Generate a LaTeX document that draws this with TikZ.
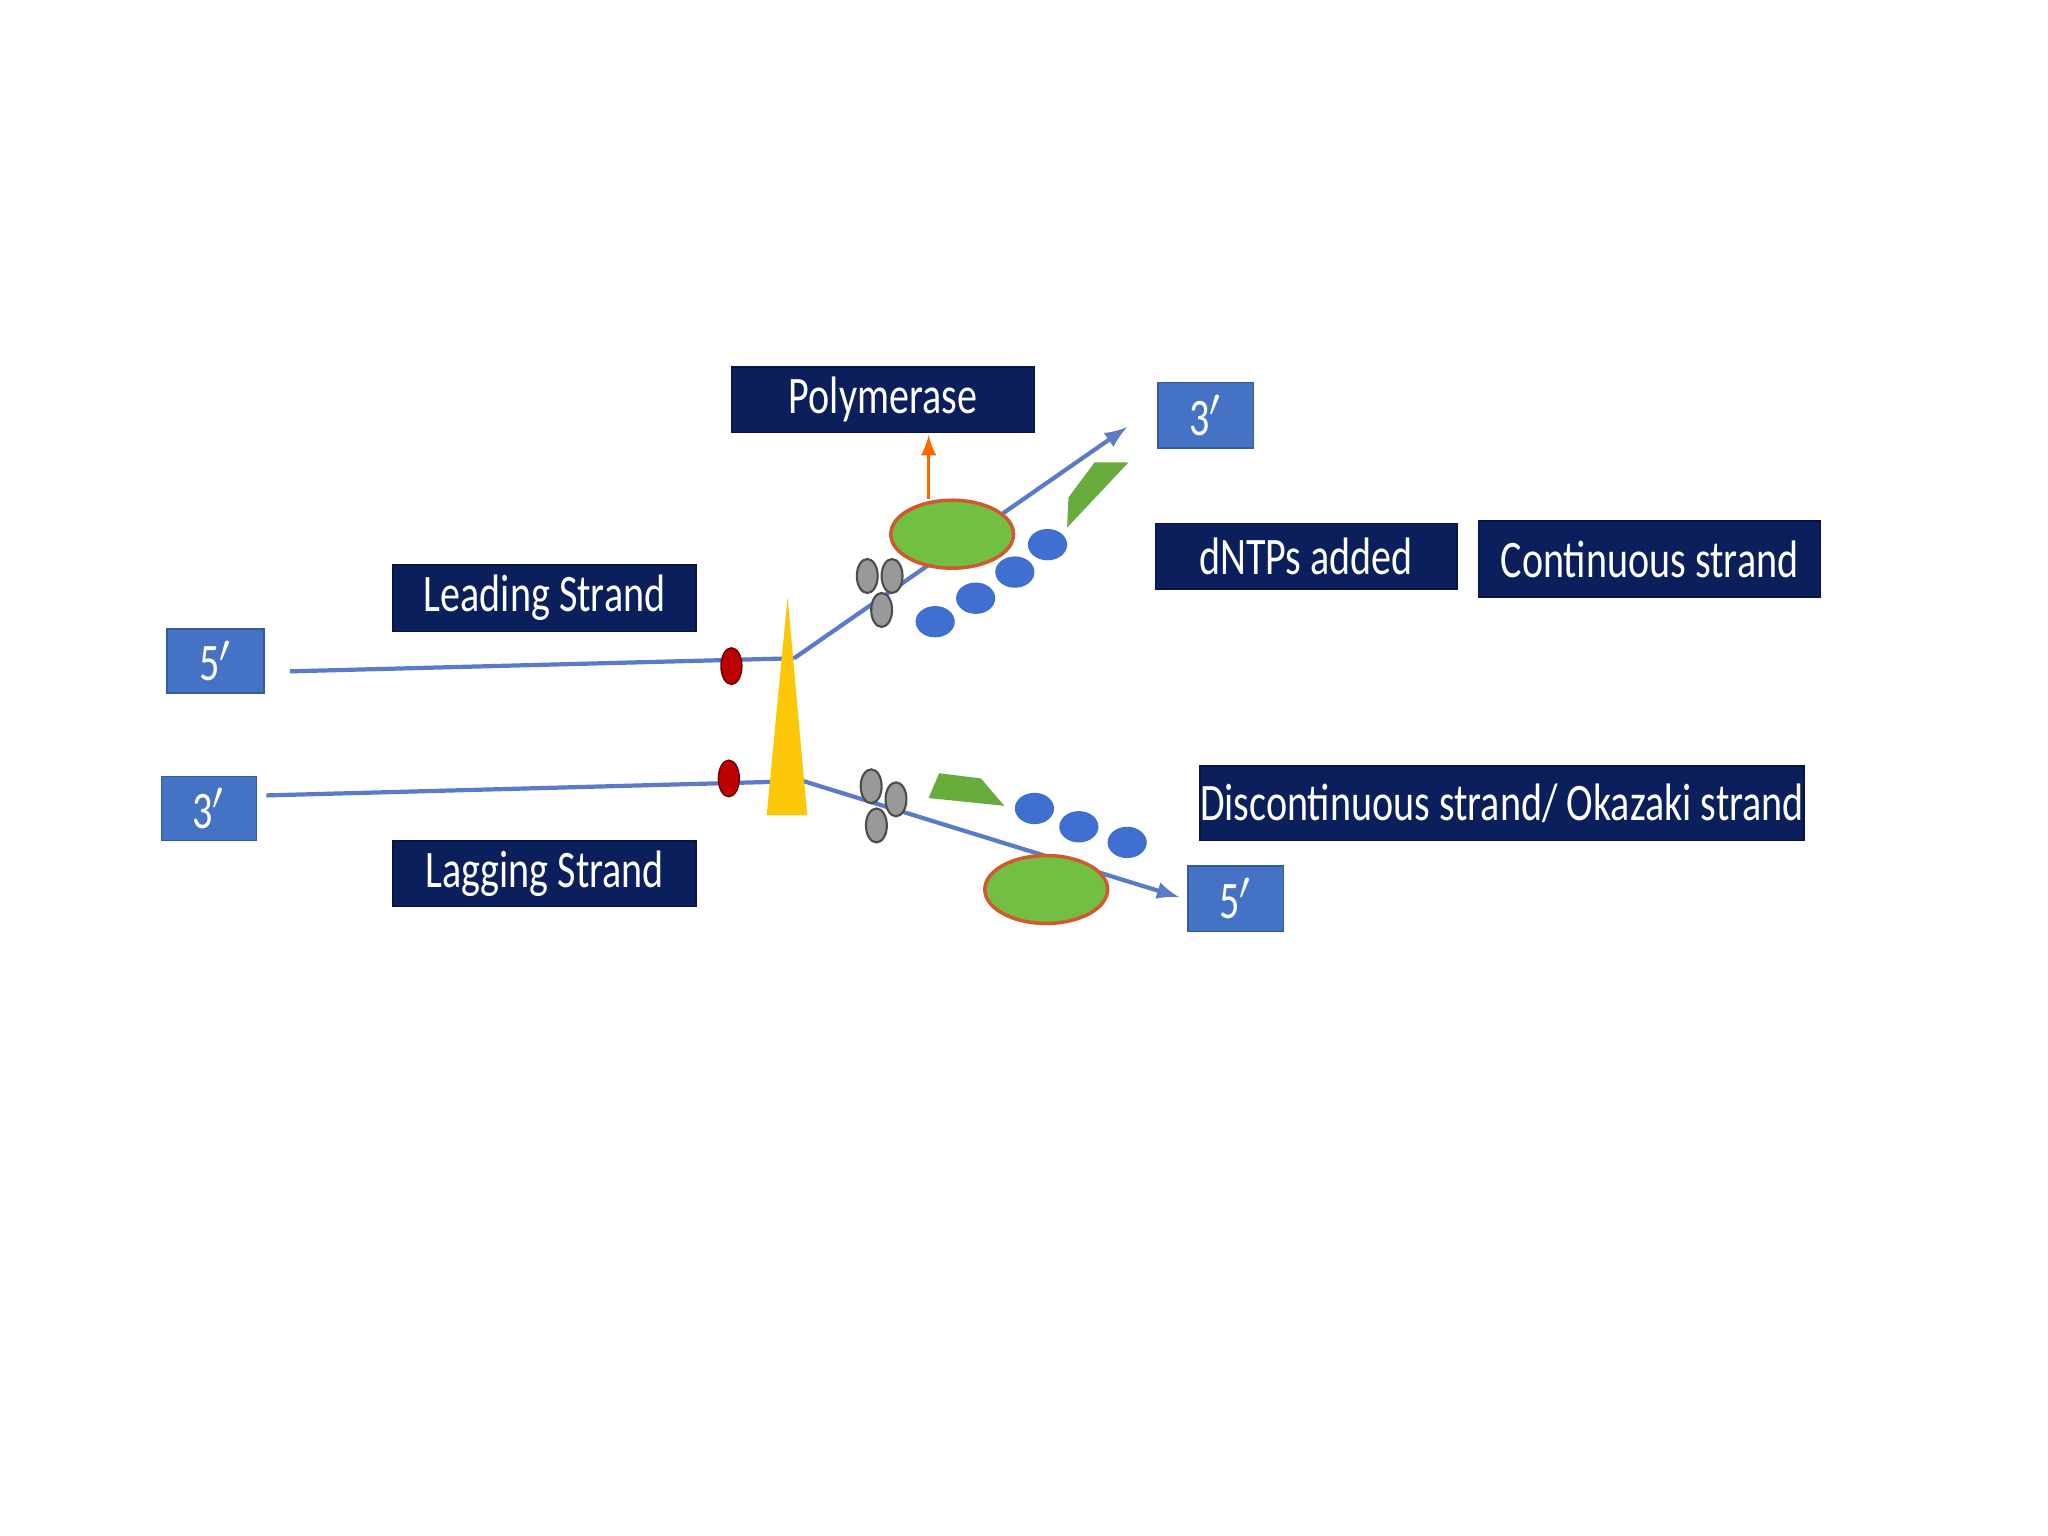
\documentclass[tikz,border=0pt]{standalone}
\usepackage{fontspec}
\setmainfont{Carlito}[FakeStretch=0.76]
\usetikzlibrary{shapes.geometric}
\begin{document}
\begin{tikzpicture}[x=0.01306cm,y=-0.01306cm,
 dark/.style={fill=navy,draw=navy!70!black,text=white,inner sep=0pt,font=\fontsize{15}{17}\selectfont},
 lite/.style={fill=liteb,draw=liteb!80!black,text=white,inner sep=0pt,font=\fontsize{15}{17}\selectfont},
 strand/.style={draw=strandc,line width=1.2pt},
 grey/.style={fill=gray!80,draw=black!70,line width=0.6pt},
 blu/.style={fill=dotb,draw=none},
 poly/.style={fill=polyg,draw=brown!70!red,line width=1pt},
 prim/.style={fill=polyg!90!black,draw=none},
 sz/.style 2 args={minimum width=#1*0.3716pt,minimum height=#2*0.3716pt}]
\definecolor{navy}{HTML}{0A1F5C}
\definecolor{liteb}{HTML}{4472C4}
\definecolor{strandc}{HTML}{5B7BC8}
\definecolor{dotb}{HTML}{3F6FD0}
\definecolor{polyg}{HTML}{72BF44}
\useasboundingbox (0,0) rectangle (1568,1176);
\fill[white] (0,0) rectangle (1568,1176);
% boxes
\node[dark,sz={232}{50}] (pol) at (676,306) {Polymerase};
\node[lite,sz={73}{50}] (t3) at (923,318) {3$'$};
\node[dark,sz={231}{50}] (dn) at (1000,426) {dNTPs added};
\node[dark,sz={262}{58}] (cs) at (1263,428) {Continuous strand};
\node[dark,sz={232}{51}] (ls) at (417,458) {Leading Strand};
\node[lite,sz={74}{49}] (l5) at (165,506) {5$'$};
\node[lite,sz={73}{49}] (l3) at (160,619) {3$'$};
\node[dark,sz={232}{50}] (lg) at (417,669) {Lagging Strand};
\node[dark,sz={455}{57}] (ok) at (1150,615) {Discontinuous strand/ Okazaki strand};
\node[lite,sz={73}{50}] (b5) at (946,688) {5$'$};
% strands
\coordinate (a1) at (222,514); \coordinate (a2) at (608,504); \coordinate (a3) at (863,327);
\coordinate (b1) at (204,609); \coordinate (b2) at (615,598); \coordinate (b3) at (903,687);
\draw[strand] (a1) -- (a2);
\draw[strand,-latex] (a2) -- (a3);
\draw[strand] (b1) -- (b2);
\draw[strand,-latex] (b2) -- (b3);
% helicase
\fill[yellow!60!orange] (603,457) -- (618,624) -- (587,624) -- cycle;
\node[ellipse,fill=red!75!black,draw=red!40!black,sz={16}{28},inner sep=0] (r1) at (560,510) {};
\node[ellipse,fill=red!75!black,draw=red!40!black,sz={16}{28},inner sep=0] (r2) at (558,596) {};
% top fork
\draw[prim] (817,404) -- (818,381) -- (838,354) -- (864,354) -- cycle;
\foreach \p in {(716,476),(747,458),(777,438),(802,417)} \fill[blu] \p ellipse (15 and 12);
\foreach \p in {(664,441),(683,441),(675,467)} \draw[grey] \p ellipse (8 and 13);
\node[ellipse,poly,sz={94}{52},inner sep=0] (p1) at (729,409) {};
\coordinate (oa) at (711,382); \coordinate (ob) at (711,333);
\draw[orange!80!red,line width=1pt,-latex] (oa) -- (ob);
% bottom fork
\draw[prim] (711,611) -- (719,592) -- (751,596) -- (769,617) -- cycle;
\foreach \p in {(792,619),(826,633),(863,645)} \fill[blu] \p ellipse (15 and 12);
\foreach \p in {(667,602),(686,612),(671,632)} \draw[grey] \p ellipse (8 and 13);
\node[ellipse,poly,sz={94}{52},inner sep=0] (p2) at (801,681) {};
\end{tikzpicture}
\end{document}
